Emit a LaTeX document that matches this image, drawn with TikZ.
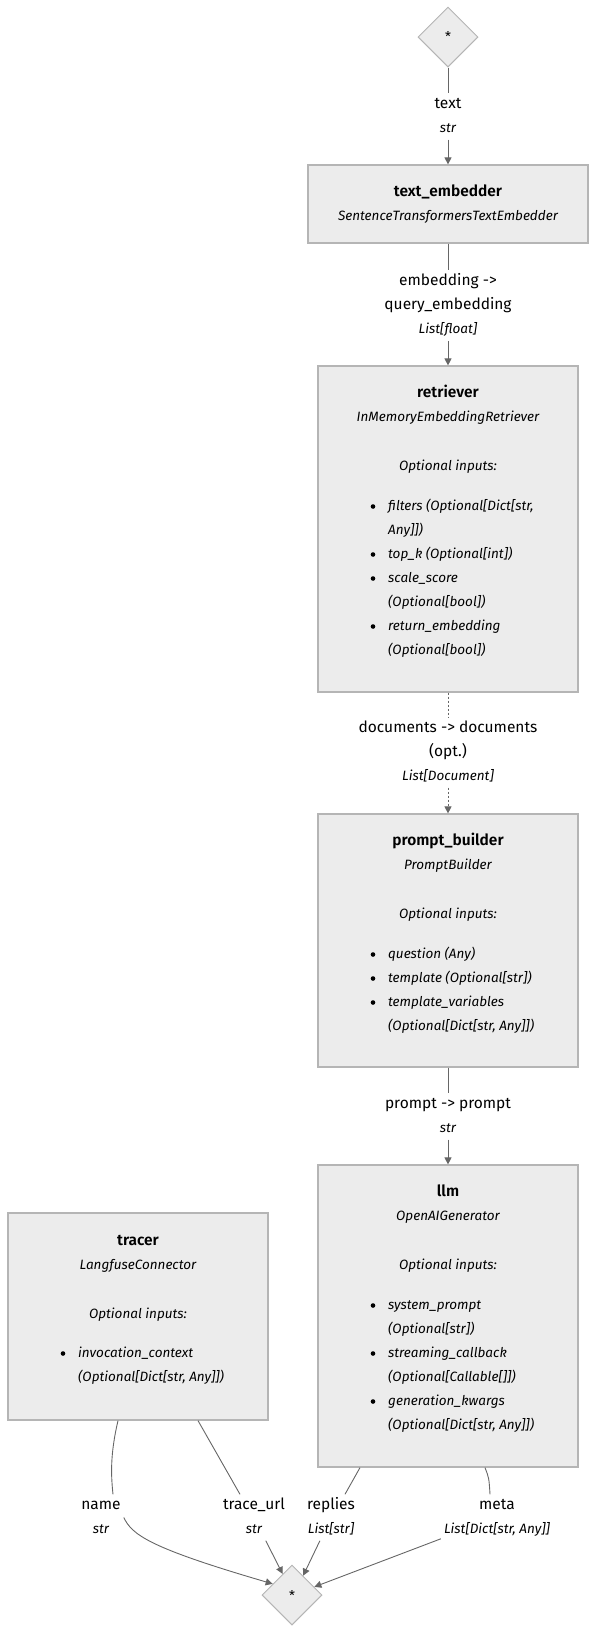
\documentclass[tikz,border=0pt]{standalone}
\usepackage{fontspec}
\setmainfont{Fira Sans}[BoldFont={Fira Sans SemiBold}]
\usetikzlibrary{arrows.meta,shapes.geometric}
\definecolor{boxfill}{HTML}{ECECEC}
\definecolor{boxline}{HTML}{B5B5B5}
\definecolor{wirecol}{HTML}{666666}
\newcommand\lblfont{\fontsize{15.5}{24}\selectfont}
\newcommand\typfont{\fontsize{13.5}{24}\selectfont\itshape}
\newcommand\ttlfont{\fontsize{15.5}{24}\selectfont\bfseries}
\newcommand\portup{\rule{0pt}{12pt}}
\newcommand\portdn{\rule[-4pt]{0pt}{4pt}}
\tikzset{
  comp/.style={draw=boxline, fill=boxfill, line width=1.2pt, inner sep=0pt},
  joint/.style={diamond, draw=boxline, fill=boxfill, line width=1pt,
    minimum width=60pt, minimum height=60pt, inner sep=0pt, font=\typfont\upshape},
  ttl/.style={anchor=base, font=\ttlfont, inner sep=0pt},
  cls/.style={anchor=base, font=\typfont, inner sep=0pt},
  item/.style={anchor=base west, font=\typfont, inner sep=0pt},
  port/.style={align=center, font=\lblfont, inner sep=3pt},
  line/.style={draw=wirecol, line width=0.9pt},
  wire/.style={line, -{Triangle[length=7pt, width=7pt]}},
  opt/.style={dash pattern=on 2pt off 2pt},
}
\begin{document}
\begin{tikzpicture}[x=1pt, y=-1pt]
    \useasboundingbox (0,0) rectangle (595,1634);
    % entry and exit
    \node[joint] (src) at (448,37) {*};
    \node[joint] (sink) at (292,1595) {*};
    % components
    \node[comp, minimum width=280pt, minimum height=78pt] (embedder) at (448,204) {};
    \node[ttl] (embtitle) at (448,196) {text\_embedder};
    \node[cls] (embcls) at (448,220) {SentenceTransformersTextEmbedder};

    \node[comp, minimum width=260pt, minimum height=326pt] (retriever) at (448,529) {};
    \node[ttl] (rettitle) at (448,397) {retriever};
    \node[cls] (retcls) at (448,421) {InMemoryEmbeddingRetriever};
    \node[cls] (retopt) at (448,470) {Optional inputs:};
    \node[item] (ret1) at (388,510) {filters (Optional[Dict[str,};
    \node[item] (ret2) at (388,534) {Any]])};
    \node[item] (ret3) at (388,558) {top\_k (Optional[int])};
    \node[item] (ret4) at (388,582) {scale\_score};
    \node[item] (ret5) at (388,606) {(Optional[bool])};
    \node[item] (ret6) at (388,630) {return\_embedding};
    \node[item] (ret7) at (388,654) {(Optional[bool])};

    \node[comp, minimum width=260pt, minimum height=253pt] (builder) at (448,940.5) {};
    \node[ttl] (bldtitle) at (448,845) {prompt\_builder};
    \node[cls] (bldcls) at (448,869) {PromptBuilder};
    \node[cls] (bldopt) at (448,918) {Optional inputs:};
    \node[item] (bld1) at (388,958) {question (Any)};
    \node[item] (bld2) at (388,982) {template (Optional[str])};
    \node[item] (bld3) at (388,1006) {template\_variables};
    \node[item] (bld4) at (388,1030) {(Optional[Dict[str, Any]])};

    \node[comp, minimum width=260pt, minimum height=302pt] (llm) at (448,1316) {};
    \node[ttl] (llmtitle) at (448,1196) {llm};
    \node[cls] (llmcls) at (448,1220) {OpenAIGenerator};
    \node[cls] (llmopt) at (448,1269) {Optional inputs:};
    \node[item] (llm1) at (388,1309) {system\_prompt};
    \node[item] (llm2) at (388,1333) {(Optional[str])};
    \node[item] (llm3) at (388,1357) {streaming\_callback};
    \node[item] (llm4) at (388,1381) {(Optional[Callable[]])};
    \node[item] (llm5) at (388,1405) {generation\_kwargs};
    \node[item] (llm6) at (388,1429) {(Optional[Dict[str, Any]])};

    \node[comp, minimum width=260pt, minimum height=207pt] (tracer) at (138,1316.5) {};
    \node[ttl] (trctitle) at (138,1245) {tracer};
    \node[cls] (trccls) at (138,1269) {LangfuseConnector};
    \node[cls] (trcopt) at (138,1318) {Optional inputs:};
    \node[item] (trc1) at (78,1357) {invocation\_context};
    \node[item] (trc2) at (78,1381) {(Optional[Dict[str, Any]])};

    \foreach \n in {ret1,ret3,ret4,ret6,bld1,bld2,bld3,llm1,llm3,llm5,trc1}
        \fill ([xshift=-15pt,yshift=3.5pt]\n.base west) circle (2.3pt);

    % connection labels
    \node[port] (textlbl) at (448,116.5) {\portup text\\{\typfont str\portdn}};
    \node[port] (embedlbl) at (448,305.5) {\portup embedding ->\\query\_embedding\\{\typfont List[float]\portdn}};
    \node[port] (doclbl) at (448,752.5) {\portup documents -> documents\\(opt.)\\{\typfont List[Document]\portdn}};
    \node[port] (promptlbl) at (448,1116.5) {\portup prompt -> prompt\\{\typfont str\portdn}};
    \node[port] (namelbl) at (101,1517.5) {\portup name\\{\typfont str\portdn}};
    \node[port] (urllbl) at (254,1517.5) {\portup trace\_url\\{\typfont str\portdn}};
    \node[port] (repllbl) at (331,1517.5) {\portup replies\\{\typfont List[str]\portdn}};
    \node[port] (metalbl) at (497,1517.5) {\portup meta\\{\typfont List[Dict[str, Any]]\portdn}};

    % connections
    \draw[line] (src) -- (textlbl);
    \draw[wire] (textlbl) -- (embedder);
    \draw[line] (embedder) -- (embedlbl);
    \draw[wire] (embedlbl) -- (retriever);
    \draw[line, opt] (retriever) -- (doclbl);
    \draw[wire, opt] (doclbl) -- (builder);
    \draw[line] (builder) -- (promptlbl);
    \draw[wire] (promptlbl) -- (llm);

    \draw[line] ([xshift=-20pt]tracer.south) .. controls (110,1455) and (111,1475) .. ([xshift=12pt]namelbl.north);
    \draw[line] ([xshift=60pt]tracer.south) -- ([xshift=-14pt]urllbl.north);
    \draw[line] ([xshift=-88pt]llm.south) -- ([xshift=14pt]repllbl.north);
    \draw[line] ([xshift=37pt]llm.south) .. controls (489,1478) .. ([xshift=-7pt]metalbl.north);

    \draw[wire] (namelbl.east) .. controls (132,1535) and (150,1548) .. (sink.150);
    \draw[wire] (urllbl) -- (sink.114);
    \draw[wire] (repllbl) -- (sink.60);
    \draw[wire] (metalbl) -- (sink.20);
\end{tikzpicture}
\end{document}
